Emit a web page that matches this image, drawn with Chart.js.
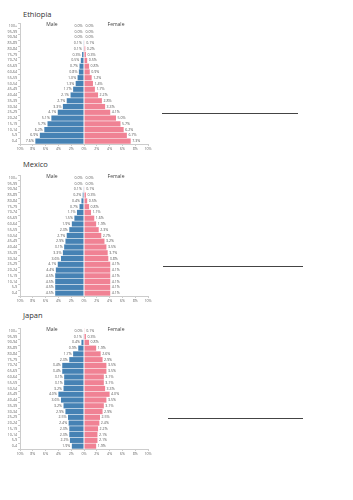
<!DOCTYPE html>
<html>
<head>
<meta charset="utf-8">
<script src="https://cdn.jsdelivr.net/npm/chart.js@4.4.0/dist/chart.umd.min.js"></script>
<style>
  body { margin: 0; background: #fff; width: 353px; height: 500px; position: relative; overflow: hidden; font-family: "Open Sans", sans-serif; }
  .title { position: absolute; left: 23px; font-size: 7.5px; color: #333; line-height: 1; }
  .rule { position: absolute; height: 0; border-top: 1.3px solid #444; }
  canvas { position: absolute; left: 0; }
</style>
</head>
<body>
<div class="title" style="top:11px">Ethiopia</div>
<div class="title" style="top:161px">Mexico</div>
<div class="title" style="top:312px">Japan</div>
<canvas id="ethiopia" width="155" height="154" style="top:0px"></canvas>
<canvas id="mexico" width="155" height="154" style="top:152px"></canvas>
<canvas id="japan" width="155" height="154" style="top:305px"></canvas>
<div class="rule" style="top:113px; left:162px; width:136px"></div>
<div class="rule" style="top:266px; left:163px; width:140px"></div>
<div class="rule" style="top:418px; left:168px; width:135px"></div>
<script>
// age bands, bottom to top
const ageGroups = ['0-4', '5-9', '10-14', '15-19', '20-24', '25-29', '30-34', '35-39', '40-44', '45-49',
  '50-54', '55-59', '60-64', '65-69', '70-74', '75-79', '80-84', '85-89', '90-94', '95-99', '100+'];
const xTickValues = [-10, -8, -6, -4, -2, 0, 2, 4, 6, 8, 10];

const ethiopiaMale   = [7.6, 6.9, 6.2, 5.7, 5.1, 4.1, 3.3, 2.7, 2.1, 1.7, 1.3, 1.0, 0.8, 0.7, 0.5, 0.3, 0.1, 0.1, 0.0, 0.0, 0.0];
const ethiopiaFemale = [7.3, 6.7, 6.2, 5.7, 5.0, 4.1, 3.3, 2.8, 2.2, 1.7, 1.4, 1.2, 0.9, 0.8, 0.5, 0.3, 0.2, 0.1, 0.0, 0.0, 0.0];
const mexicoMale     = [4.5, 4.5, 4.5, 4.5, 4.4, 4.1, 3.6, 3.3, 3.1, 2.9, 2.7, 2.3, 1.9, 1.5, 1.1, 0.7, 0.4, 0.2, 0.1, 0.0, 0.0];
const mexicoFemale   = [4.1, 4.1, 4.1, 4.1, 4.1, 4.1, 3.8, 3.7, 3.5, 3.2, 2.7, 2.3, 1.9, 1.6, 1.1, 0.8, 0.5, 0.3, 0.1, 0.0, 0.0];
const japanMale      = [1.9, 2.2, 2.3, 2.3, 2.4, 2.5, 2.9, 3.2, 3.6, 4.0, 3.2, 3.1, 3.1, 3.4, 3.4, 2.3, 1.7, 0.9, 0.4, 0.1, 0.0];
const japanFemale    = [1.9, 2.1, 2.1, 2.2, 2.4, 2.5, 2.9, 3.1, 3.5, 4.0, 3.3, 3.1, 3.1, 3.5, 3.5, 2.9, 2.6, 1.9, 0.8, 0.3, 0.1];

const maleColor = '#4682b4';
const femaleColor = '#f08294';
const FONT = '"Open Sans", sans-serif';

// draws the % next to each bar end plus the Male / Female headers
const pyramidLabels = {
  id: 'pyramidLabels',
  afterDatasetsDraw(chart) {
    const ctx = chart.ctx;
    const xs = chart.scales.x;
    const area = chart.chartArea;
    ctx.save();
    ctx.font = '3.6px ' + FONT;
    ctx.fillStyle = '#555';
    ctx.textBaseline = 'middle';
    chart.data.datasets.forEach((ds, i) => {
      const meta = chart.getDatasetMeta(i);
      meta.data.forEach((bar, j) => {
        const v = ds.data[j];
        const txt = Math.abs(v).toFixed(1) + '%';
        if (i === 0) {
          ctx.textAlign = 'right';
          ctx.fillText(txt, bar.x - 1.5, bar.y);
        } else {
          ctx.textAlign = 'left';
          ctx.fillText(txt, bar.x + 1.5, bar.y);
        }
      });
    });
    ctx.font = '5px ' + FONT;
    ctx.fillStyle = '#444';
    ctx.textAlign = 'center';
    ctx.fillText('Male', xs.getPixelForValue(-5), area.top + 1.5);
    ctx.fillText('Female', xs.getPixelForValue(5), area.top + 1.5);
    ctx.restore();
  }
};

function drawPyramid(id, male, female) {
  new Chart(document.getElementById(id), {
    type: 'bar',
    data: {
      labels: ageGroups,
      datasets: [
        { label: 'Male', data: male.map(v => -v), backgroundColor: maleColor, barPercentage: 0.9, categoryPercentage: 1 },
        { label: 'Female', data: female, backgroundColor: femaleColor, barPercentage: 0.9, categoryPercentage: 1 }
      ]
    },
    options: {
      indexAxis: 'y',
      responsive: false,
      animation: false,
      devicePixelRatio: 1,
      layout: { padding: { top: 23, right: 7, left: 0, bottom: 0 } },
      plugins: { legend: { display: false }, tooltip: { enabled: false } },
      scales: {
        x: {
          stacked: true,
          min: -10,
          max: 10,
          afterBuildTicks: s => { s.ticks = xTickValues.map(v => ({ value: v })); },
          afterFit: s => { s.height = 10; },
          grid: { drawOnChartArea: false, tickLength: 2, color: '#ccc' },
          border: { color: '#ccc' },
          ticks: {
            padding: 1,
            maxRotation: 0,
            color: '#666',
            font: { size: 3.6, family: FONT },
            callback: v => Math.abs(v) + '%'
          }
        },
        y: {
          stacked: true,
          reverse: true,
          afterFit: s => { s.width = 20; },
          grid: { drawOnChartArea: false, tickLength: 2, color: '#ccc' },
          border: { color: '#ccc' },
          ticks: { padding: 1, color: '#666', font: { size: 3.6, family: FONT }, autoSkip: false }
        }
      }
    },
    plugins: [pyramidLabels]
  });
}

drawPyramid('ethiopia', ethiopiaMale, ethiopiaFemale);
drawPyramid('mexico', mexicoMale, mexicoFemale);
drawPyramid('japan', japanMale, japanFemale);
</script>
</body>
</html>
